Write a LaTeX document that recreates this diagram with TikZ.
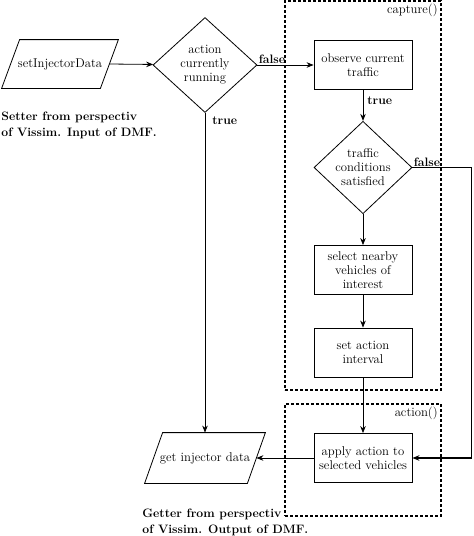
\documentclass[tikz,border=0pt]{standalone}
\usetikzlibrary{shapes.geometric,arrows.meta}
\begin{document}
\begin{tikzpicture}[x=1pt,y=-1pt,
  font=\fontsize{12.7}{14}\selectfont,
  line width=0.8pt,
  proc/.style={draw, rectangle, minimum width=98pt, minimum height=49pt, align=center, inner sep=0pt},
  decis/.style={draw, diamond, align=center, inner sep=0pt},
  io/.style={rectangle, inner sep=0pt, align=center},
  arr/.style={-{Stealth[length=7pt,width=5.5pt]}},
  lbl/.style={font=\fontsize{12.2}{16}\selectfont\bfseries, inner sep=1pt},
  frame/.style={draw, densely dashed, line width=1.2pt, inner sep=0pt},
  framelabel/.style={inner sep=1pt}
]
\useasboundingbox (0,0) rectangle (474,536);
% frames
\node[frame, minimum width=156pt, minimum height=389pt] (capf) at (363,195.5) {};
\node[frame, minimum width=156pt, minimum height=112pt] (actf) at (363,460) {};
\node[framelabel, anchor=north east] (capl) at (439,3) {capture()};
\node[framelabel, anchor=north east] (actl) at (439,406) {action()};
% nodes
\node[io, minimum width=116pt, minimum height=48pt] (setinj) at (60,64) {setInjectorData};
\draw ([xshift=18pt]setinj.north west) -- (setinj.north east) -- ([xshift=-18pt]setinj.south east) -- (setinj.south west) -- cycle;
\node[decis, minimum width=104pt, minimum height=95pt] (d1) at (205,65) {action\\currently\\running};
\node[proc] (obs) at (363,65) {observe current\\traffic};
\node[decis, minimum width=98pt, minimum height=89pt] (d2) at (363,167.5) {traffic\\conditions\\satisfied};
\node[proc] (sel) at (363,270) {select nearby\\vehicles of\\interest};
\node[proc] (sai) at (363,352.5) {set action\\interval};
\node[proc] (app) at (363,458) {apply action to\\selected vehicles};
\node[io, minimum width=120pt, minimum height=50pt] (get) at (205,458) {get injector data};
\draw ([xshift=18pt]get.north west) -- (get.north east) -- ([xshift=-18pt]get.south east) -- (get.south west) -- cycle;
% texts
\node[lbl, anchor=west, align=left] (setter) at (0,125) {Setter from perspectiv\\of Vissim. Input of DMF.};
\node[lbl, anchor=west, align=left] (getter) at (141,522) {Getter from perspectiv\\of Vissim. Output of DMF.};
% connectors
\draw[arr] ([xshift=-9pt]setinj.east) -- (d1);
\draw[arr] (d1) -- (obs);
\node[lbl, anchor=south west] (f1) at (d1.east) {false};
\draw[arr] (obs) -- (d2);
\node[lbl, anchor=north west] (t2) at ([xshift=3pt,yshift=-5pt]obs.south) {true};
\draw[arr] (d2) -- (sel);
\draw[arr] (sel) -- (sai);
\draw[arr] (sai) -- (app);
\draw[arr] (app) -- ([xshift=-9pt]get.east);
\draw[arr] (d1) -- (get);
\node[lbl, anchor=north west] (t1) at ([xshift=6pt,yshift=-2pt]d1.south) {true};
\coordinate (cr) at (471.5,167.5);
\draw[arr, line width=1.2pt] (d2.east) -- (cr) |- (app.east);
\node[lbl, anchor=south west] (f2) at (d2.east) {false};
\end{tikzpicture}
\end{document}
